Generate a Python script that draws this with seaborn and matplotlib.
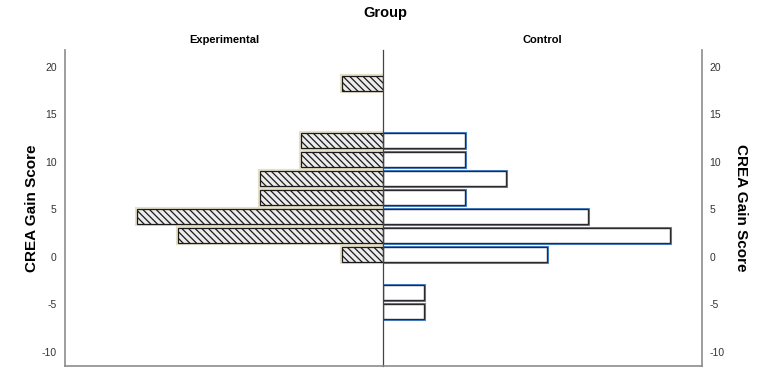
import numpy as np
import pandas as pd
import matplotlib
matplotlib.use("Agg")
import matplotlib.pyplot as plt
import seaborn as sns

# bin midpoints (CREA gain score) and frequencies per group
exp_bins = [18.2, 12.2, 10.2, 8.2, 6.2, 4.2, 2.2, 0.2]
exp_counts = [1, 2, 2, 3, 3, 6, 5, 1]
ctl_bins = [12.2, 10.2, 8.2, 6.2, 4.2, 2.2, 0.2, -3.8, -5.8]
ctl_counts = [2, 2, 3, 2, 5, 7, 4, 1, 1]
y_ticks = [-10, -5, 0, 5, 10, 15, 20]
panel_titles = ["Experimental", "Control"]

sns.set_theme(style="white")
plt.rcParams['font.family'] = ['Liberation Sans', 'DejaVu Sans']
plt.rcParams['text.color'] = 'black'
plt.rcParams['axes.labelcolor'] = 'black'
plt.rcParams['hatch.linewidth'] = 0.9

exp_df = pd.DataFrame({"score": exp_bins, "count": exp_counts})
ctl_df = pd.DataFrame({"score": ctl_bins, "count": ctl_counts})

fig = plt.figure(figsize=(7.7, 3.78), dpi=100)
ax_l = fig.add_axes([0.0844, 0.032, 0.4133, 0.836])
ax_r = fig.add_axes([0.4977, 0.032, 0.4143, 0.836])
ax_r.set_facecolor("none")

# experimental: beige halo then hatched bar
sns.barplot(data=exp_df, x="count", y="score", orient="h", native_scale=True,
            color="#e6e0c8", edgecolor="#e6e0c8", linewidth=3.0, ax=ax_l)
sns.barplot(data=exp_df, x="count", y="score", orient="h", native_scale=True,
            color="#ececec", edgecolor="#1a1a1a", linewidth=0.9,
            hatch="\\\\\\\\\\", ax=ax_l)

# control: blue halo then plain outlined bar
sns.barplot(data=ctl_df, x="count", y="score", orient="h", native_scale=True,
            color="white", edgecolor="#4a8ae0", linewidth=2.2, ax=ax_r)
sns.barplot(data=ctl_df, x="count", y="score", orient="h", native_scale=True,
            color="white", edgecolor="#2a2a2a", linewidth=1.0, ax=ax_r)

ylim = (-11.5, 21.76)
ax_l.set_xlim(7.76, 0)
ax_r.set_xlim(0, 7.78)
for ax in (ax_l, ax_r):
    ax.set_ylim(*ylim)
    ax.set_yticks(y_ticks)
    ax.set_yticklabels([str(t) for t in y_ticks], fontsize=7.5, color="#333333")
    ax.set_xticks([])
    ax.set_xlabel("")
    ax.set_ylabel("")
    ax.tick_params(axis="y", length=0, pad=6)
    ax.spines["top"].set_visible(False)
    ax.spines["bottom"].set_color("#8c8c8c")
    ax.spines["bottom"].set_linewidth(1.2)

ax_l.spines["left"].set_color("#8c8c8c")
ax_l.spines["left"].set_linewidth(1.2)
ax_l.spines["right"].set_visible(False)
ax_r.spines["left"].set_color("#444444")
ax_r.spines["left"].set_linewidth(0.9)
ax_r.spines["right"].set_color("#8c8c8c")
ax_r.spines["right"].set_linewidth(1.2)
ax_r.yaxis.tick_right()
ax_r.tick_params(axis="y", length=0, pad=5)

ax_l.set_ylabel("CREA Gain Score", fontsize=11, fontweight="bold", labelpad=2)
ax_r.yaxis.set_label_position("right")
ax_r.set_ylabel("CREA Gain Score", fontsize=11, fontweight="bold",
                rotation=270, labelpad=17)

ax_l.set_title(panel_titles[0], fontsize=8, fontweight="bold", pad=5)
ax_r.set_title(panel_titles[1], fontsize=8, fontweight="bold", pad=5)
fig.text(0.5, 0.965, "Group", ha="center", va="center",
         fontsize=10.5, fontweight="bold")

fig.savefig("out.png", dpi=100)
